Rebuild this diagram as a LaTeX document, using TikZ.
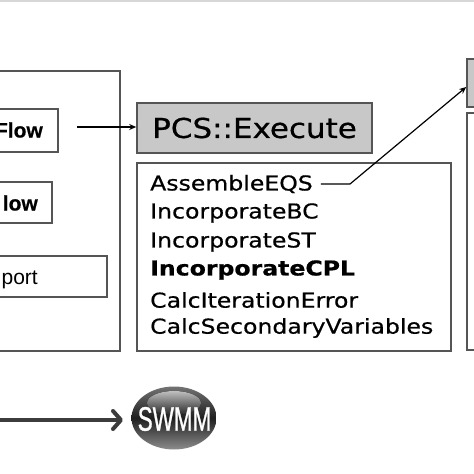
\documentclass[tikz,border=0pt]{standalone}
\usepackage{fontspec}
\setmainfont{Liberation Sans}
\newfontfamily\listfont[FakeStretch=1.15,FakeBold=0.6]{DejaVu Sans}
\newfontfamily\headfont[FakeStretch=1.13,FakeBold=0.6]{DejaVu Sans}
\newfontfamily\swfont[FakeStretch=0.66,FakeBold=0.8]{Liberation Sans}
\newfontfamily\leftfont[FakeBold=0.5]{Liberation Sans}
\usetikzlibrary{arrows.meta,shapes.geometric}
\definecolor{edge}{RGB}{85,85,85}
\definecolor{headfill}{RGB}{200,200,200}
\definecolor{thick}{RGB}{60,60,60}
\tikzset{
  frame/.style={draw=edge, line width=1.6pt, rectangle, inner sep=0pt},
  headbox/.style={frame, fill=headfill},
  listtext/.style={anchor=west, inner sep=0pt, font=\listfont\fontsize{20.5}{22}\selectfont},
  lefttext/.style={anchor=east, inner sep=0pt, font=\leftfont\fontsize{21}{23}\selectfont\bfseries},
  conn/.style={draw=black, line width=1.2pt, -{Stealth[length=7pt,width=6pt]}},
}
\begin{document}
\begin{tikzpicture}[x=1pt,y=-1pt]
\useasboundingbox (0,0) rectangle (474,474);
\clip (0,0) rectangle (474,474);
\fill[white] (0,0) rectangle (474,474);
% top gray rule
\draw[line width=2.5pt, draw={rgb,255:red,215;green,215;blue,215}] (0,1) -- (474,1);

% left outer box
\node[frame, minimum width=140, minimum height=280] (outer) at (50,211) {};
\node[frame, minimum width=78, minimum height=43] (b1) at (19,130.5) {};
\node[frame, minimum width=72, minimum height=41] (b2) at (16,202.5) {};
\node[frame, minimum width=127, minimum height=41] (b3) at (43.5,276.5) {};
\node[lefttext] (t1) at (43,130) {Flow};
\node[lefttext] (t2) at (38,203) {low};
\node[lefttext, font=\fontsize{21}{23}\selectfont] (t3) at (38,280) {port};

% middle
\node[headbox, minimum width=235, minimum height=50, font=\headfont\fontsize{27.4}{30}\selectfont] (pcs) at (254.5,128) {PCS::Execute};
\node[frame, minimum width=314, minimum height=188] (list) at (294,257) {};
\node[listtext] (l1) at (150,184) {AssembleEQS};
\node[listtext] (l2) at (150,213) {IncorporateBC};
\node[listtext] (l3) at (150,242) {IncorporateST};
\node[listtext, font=\listfont\fontsize{20.5}{22}\selectfont\bfseries] (l4) at (150,270) {IncorporateCPL};
\node[listtext] (l5) at (150,300) {CalcIterationError};
\node[listtext] (l6) at (150,328) {CalcSecondaryVariables};

% right boxes
\node[headbox, minimum width=40, minimum height=48] (rhead) at (487,83) {};
\node[frame, minimum width=40, minimum height=237] (rlist) at (487,231.5) {};

% connectors
\coordinate (a1) at (77,127);
\draw[conn] (a1) -- (pcs.west |- a1);
\coordinate (bend) at (350,184);
\draw[conn] ([xshift=8pt]l1.east) -- (bend) -- (rhead.west |- 0,87);

% SWMM
\node[ellipse, minimum width=85, minimum height=63, inner sep=0pt,
  top color=black!55, bottom color=black!45, middle color=black!88] (swmm) at (174,418) {};
\fill[top color=white!75!black, bottom color=black!85, draw=none] (174,403) ellipse [x radius=27, y radius=12];
\node[text=white, inner sep=0pt, font=\swfont\fontsize{34}{36}\selectfont] (swt) at (174.5,419) {SWMM};
\coordinate (s0) at (0,420);
\coordinate (s1) at (123,420);
\draw[draw=thick, line width=4pt, line cap=round, line join=round, -{Straight Barb[length=8pt,width=18pt,line cap=round,line join=round]}] (s0) -- (s1);
\end{tikzpicture}
\end{document}
